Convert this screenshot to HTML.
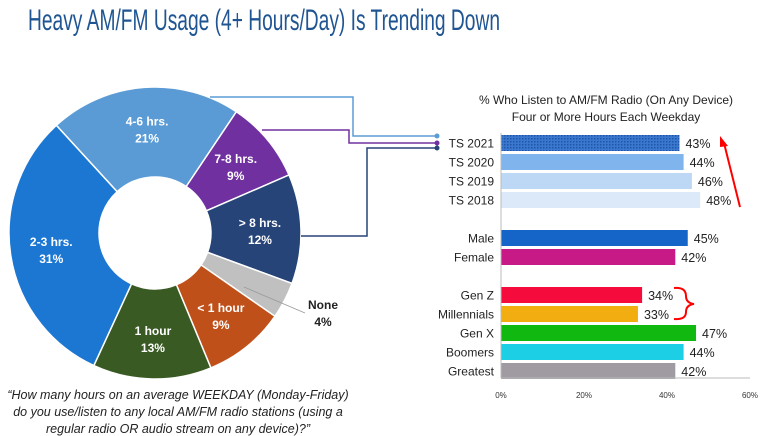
<!DOCTYPE html>
<html><head><meta charset="utf-8"><style>
body{margin:0;background:#fff;}
svg{display:block;font-family:"Liberation Sans",sans-serif;}
</style></head><body>
<svg width="768" height="436" viewBox="0 0 768 436">
<defs>
<pattern id="dots" width="3" height="3" patternUnits="userSpaceOnUse"><rect width="3" height="3" fill="#3a78d0"/><rect width="1.5" height="1.5" fill="#1f56a8"/></pattern>
</defs>
<text x="264" y="30" text-anchor="middle" font-size="30" fill="#1f5592" textLength="472" lengthAdjust="spacingAndGlyphs">Heavy AM/FM Usage (4+ Hours/Day) Is Trending Down</text>
<g id="donut"></g>
<g fill="none" stroke-width="1.5">
<polyline points="210,97 353,97 353,136 437,136" stroke="#5b9bd5"/>
<polyline points="262,130 349,130 349,143 437,143" stroke="#7030a0"/>
<polyline points="301,236 367,236 367,148 437,148" stroke="#264478"/>
<circle cx="437" cy="136" r="2.5" fill="#5b9bd5" stroke="none"/>
<circle cx="437" cy="143" r="2.5" fill="#7030a0" stroke="none"/>
<circle cx="437" cy="148" r="2.5" fill="#264478" stroke="none"/>
</g>
<line x1="244" y1="287" x2="305" y2="313" stroke="#999" stroke-width="0.8"/>
<text x="323" y="309" text-anchor="middle" font-size="12" font-weight="bold" fill="#222">None</text>
<text x="323" y="326" text-anchor="middle" font-size="12" font-weight="bold" fill="#222">4%</text>
<g font-size="12.5" font-style="italic" fill="#222" text-anchor="middle">
<text x="178" y="399">“How many hours on an average WEEKDAY (Monday-Friday)</text>
<text x="178" y="416">do you use/listen to any local AM/FM radio stations (using a</text>
<text x="178" y="433">regular radio OR audio stream on any device)?”</text>
</g>
<g font-size="12" fill="#222" text-anchor="middle">
<text x="606" y="104">% Who Listen to AM/FM Radio (On Any Device)</text>
<text x="606" y="121">Four or More Hours Each Weekday</text>
</g>
<g id="bars"></g>
<g stroke="#ff0000" stroke-width="2" fill="none">
<line x1="740" y1="207" x2="724" y2="143"/>
<polygon points="720,136 728,146 720,147" fill="#ff0000" stroke="none"/>
<path d="M674,288 Q686,287 686,296 Q686,303 694,304 Q686,305 686,312 Q686,320 674,319"/>
</g>
</svg>
<script>
const sliceLabels=["4-6 hrs.","7-8 hrs.","> 8 hrs.","None","< 1 hour","1 hour","2-3 hrs."];
const sliceValues=[21,9,12,4,9,13,31];
const sliceColors=["#5b9bd5","#7030a0","#264478","#c0c0c0","#c0501a","#3a5a24","#1c77d2"];
const barLabels=["TS 2021","TS 2020","TS 2019","TS 2018","Male","Female","Gen Z","Millennials","Gen X","Boomers","Greatest"];
const barValues=[43,44,46,48,45,42,34,33,47,44,42];
const barRows=[0,1,2,3,5,6,8,9,10,11,12];
const barColors=["url(#dots)","#7fb4ec","#bcd8f4","#dce9f8","#1565c8","#c81a86","#f50c3c","#f2ad10","#10b810","#1ccfe4","#a09ba2"];
const tickValues=[0,20,40,60];
const NS="http://www.w3.org/2000/svg";
function mk(t,a,p){const e=document.createElementNS(NS,t);for(const k in a)e.setAttribute(k,a[k]);p.appendChild(e);return e;}
const cx=155,cy=233,R=146,r=56,start=-42.5;
const total=sliceValues.reduce((a,b)=>a+b,0);
const dg=document.getElementById('donut');
function pt(a,rad){const t=(a-90)*Math.PI/180;return [cx+rad*Math.cos(t),cy+rad*Math.sin(t)];}
let ang=start;
sliceValues.forEach((v,i)=>{
  const a0=ang,a1=ang+v/total*360;ang=a1;
  const [x0,y0]=pt(a0,R),[x1,y1]=pt(a1,R),[x2,y2]=pt(a1,r),[x3,y3]=pt(a0,r);
  const lg=(a1-a0)>180?1:0;
  const p=mk('path',{d:`M${x0},${y0}A${R},${R} 0 ${lg} 1 ${x1},${y1}L${x2},${y2}A${r},${r} 0 ${lg} 0 ${x3},${y3}Z`,fill:sliceColors[i],stroke:'#fff','stroke-width':1.5},dg);
  
  
  if(sliceLabels[i]!=="None"){
    const [lx,ly]=pt((a0+a1)/2,(R+r)/2+4);
    const t1=mk('text',{x:lx,y:ly-3,'text-anchor':'middle','font-size':12,'font-weight':'bold',fill:'#fff'},dg);
    t1.textContent=sliceLabels[i];
    
    
    const t2=mk('text',{x:lx,y:ly+14,'text-anchor':'middle','font-size':12,'font-weight':'bold',fill:'#fff'},dg);
    t2.textContent=v+'%';
    
    
  }
});
const bg=document.getElementById('bars');
const x0=501,pxPer=4.15,rowY=135,rowH=19,bh=16;
const xs=v=>x0+v*pxPer;
barValues.forEach((v,i)=>{
  const y=rowY+barRows[i]*rowH;
  const b=mk('rect',{x:x0,y:y,width:xs(v)-x0,height:bh,fill:barColors[i]},bg);
  
  
  const l=mk('text',{x:x0-7,y:y+12.5,'text-anchor':'end','font-size':12,fill:'#222'},bg);
  l.textContent=barLabels[i];
  
  
  const vt=mk('text',{x:xs(v)+6,y:y+13,'font-size':12.5,fill:'#222'},bg);
  vt.textContent=v+'%';
  
  
});
const ax=mk('line',{x1:x0,y1:133,x2:x0,y2:378,stroke:'#bbb','stroke-width':1},bg);


const bx=mk('line',{x1:x0,y1:378,x2:xs(60),y2:378,stroke:'#bbb','stroke-width':1},bg);


tickValues.forEach(t=>{
  const tt=mk('text',{x:xs(t),y:398,'text-anchor':'middle','font-size':8,fill:'#333'},bg);
  tt.textContent=t+'%';
  
  
});
</script>
</body></html>
